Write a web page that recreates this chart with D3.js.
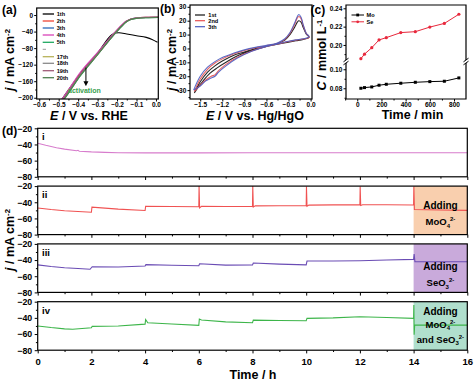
<!DOCTYPE html>
<html><head><meta charset="utf-8">
<script src="https://cdn.jsdelivr.net/npm/d3@7"></script>
<style>
body{margin:0;background:#fff}
svg{display:block}
text{font-family:"Liberation Sans",Arial,Helvetica,sans-serif;font-weight:bold;fill:#000}
</style></head>
<body>
<script>
// ---------------- DATA ----------------
// (a) LSV curves  [E (V vs RHE), j (mA cm-2)]
const lsvLabels = ["1th","2th","3th","4th","5th","...","17th","18th","19th","20th"];
const lsvColors = ["#000000","#ee4433","#2a6ab8","#d943b8","#1fa860","#999999","#b8b35a","#8a8a8a","#a05c78","#4d8050"];
const lsv1th = [[0.008,-66],[-0.02,-59],[-0.05,-54],[-0.1,-50],[-0.15,-46],[-0.19,-43],[-0.21,-43.5],[-0.225,-47],[-0.3,-92],[-0.39,-142],[-0.478,-200],[-0.49,-208]];
const lsv2th = [[0.012,-5],[-0.05,-5.5],[-0.1,-7],[-0.13,-10],[-0.155,-16],[-0.175,-25],[-0.195,-35],[-0.22,-48],[-0.3,-93],[-0.39,-143],[-0.475,-200],[-0.49,-209]];
const lsv3th = [[0.012,-5.5],[-0.05,-6],[-0.1,-7.5],[-0.13,-10.5],[-0.155,-16.5],[-0.175,-25.5],[-0.195,-35.5],[-0.22,-49],[-0.3,-94],[-0.39,-145],[-0.473,-200],[-0.49,-211]];
const lsv4th = [[0.012,-5],[-0.05,-5.5],[-0.1,-7],[-0.13,-9.5],[-0.155,-15],[-0.175,-23.5],[-0.195,-33],[-0.22,-46],[-0.3,-90],[-0.39,-139],[-0.478,-200],[-0.49,-207]];
const lsv5th = [[0.012,-6],[-0.05,-6.5],[-0.1,-8],[-0.13,-11],[-0.155,-17.5],[-0.175,-27],[-0.195,-37],[-0.22,-50],[-0.3,-96],[-0.39,-148],[-0.466,-200],[-0.48,-209]];
const lsv17th = [[0.012,-5.5],[-0.05,-6],[-0.1,-7.5],[-0.13,-10.5],[-0.155,-17],[-0.175,-26],[-0.195,-36],[-0.22,-49.5],[-0.3,-95],[-0.39,-146],[-0.47,-200],[-0.485,-210]];
const lsv18th = [[0.012,-5],[-0.05,-5.5],[-0.1,-7],[-0.13,-10],[-0.155,-16.5],[-0.175,-25.5],[-0.195,-35.5],[-0.22,-48.5],[-0.3,-94],[-0.39,-145],[-0.471,-200],[-0.485,-209]];
const lsv19th = [[0.012,-5.5],[-0.05,-6],[-0.1,-7.5],[-0.13,-10],[-0.155,-16],[-0.175,-25],[-0.195,-35],[-0.22,-48],[-0.3,-93],[-0.39,-144],[-0.472,-200],[-0.487,-210]];
const lsv20th = [[0.012,-6],[-0.05,-6.5],[-0.1,-8],[-0.13,-11],[-0.155,-17.5],[-0.175,-26.5],[-0.195,-36.5],[-0.22,-50],[-0.3,-96],[-0.39,-147],[-0.467,-200],[-0.482,-209]];
const aXTicks = [-0.6,-0.5,-0.4,-0.3,-0.2,-0.1,0.0];
const aYTicks = [0,-40,-80,-120,-160,-200];

// (b) CV loops [E (V vs Hg/HgO), j]
const cvLabels = ["1st","2nd","3th"];
const cvColors = ["#111111","#e85050","#4a5cc0"];
const cv1st = [[-1.58,-32],[-1.5,-24],[-1.4,-17],[-1.3,-12.5],[-1.2,-9],[-1.05,-5],[-0.9,-2.5],[-0.75,0],[-0.6,1.5],[-0.45,3.5],[-0.35,6],[-0.28,10],[-0.22,15],[-0.18,19],[-0.16,20],[-0.13,19],[-0.1,15],[-0.06,10.5],[-0.02,8],
  [-0.1,6.5],[-0.2,5.5],[-0.3,4.5],[-0.45,3],[-0.6,1.5],[-0.8,-1.5],[-1.0,-5.5],[-1.15,-10],[-1.27,-14],[-1.37,-18],[-1.47,-24],[-1.53,-28],[-1.58,-32]];
const cv2nd = [[-1.58,-31],[-1.5,-22],[-1.4,-15],[-1.3,-10.5],[-1.2,-7.5],[-1.05,-4],[-0.9,-1.5],[-0.75,0.5],[-0.6,2],[-0.45,3.8],[-0.35,6.5],[-0.28,11],[-0.22,17],[-0.18,22],[-0.16,23],[-0.13,21.5],[-0.1,16.5],[-0.06,11],[-0.02,8],
  [-0.1,6.8],[-0.2,6],[-0.3,5],[-0.45,3.2],[-0.6,1.5],[-0.8,-1.8],[-1.0,-6.5],[-1.15,-11.5],[-1.25,-16],[-1.3,-19],[-1.35,-20],[-1.42,-22.5],[-1.5,-26.5],[-1.58,-31]];
const cv3th = [[-1.59,-30],[-1.5,-20],[-1.4,-13.5],[-1.3,-9.5],[-1.2,-6.5],[-1.05,-3.5],[-0.9,-1],[-0.75,0.8],[-0.6,2.2],[-0.45,4],[-0.35,7],[-0.28,11.5],[-0.22,18],[-0.18,23],[-0.16,24.5],[-0.13,22.5],[-0.1,17],[-0.06,11],[-0.02,8.5],
  [-0.1,7],[-0.2,6.2],[-0.3,5.2],[-0.45,3.3],[-0.6,1.5],[-0.8,-2],[-1.0,-7],[-1.15,-12.5],[-1.25,-17],[-1.3,-20],[-1.36,-21.5],[-1.43,-23.5],[-1.5,-27],[-1.59,-30]];
const bXTicks = [-1.5,-1.2,-0.9,-0.6,-0.3,0.0];
const bYTicks = [30,20,10,0,-10,-20,-30];

// (c) concentration vs time
const timeMin = [30,60,120,180,240,360,480,600,720,840];
const moConc = [0.0800,0.0807,0.0814,0.0832,0.0842,0.0853,0.0863,0.0870,0.0874,0.0909];
const seConc = [0.185,0.190,0.197,0.2055,0.208,0.2135,0.2145,0.2195,0.2235,0.2335];
const cXTicks = [0,200,400,600,800];
const cYTicksUpper = [0.20,0.22,0.24];
const cYTicksLower = [0.08,0.10];

// (d) chronoamperometry [t (h), j]
const stabI = [[0,-38.5],[0.3,-41],[0.7,-44],[1,-45.8],[1.45,-47.8],[1.5,-47.2],[1.55,-48.3],[2,-49.2],[2.5,-49.8],[3,-50.2],[4,-50.4],[6,-50.4],[8,-50.3],[10,-50.2],[12,-50.3],[14,-50.2],[16,-50.3]];
const stabII = [[0,-47],[0.5,-49],[1,-50.5],[1.5,-51.5],[2,-52.3],[2.02,-46],[3,-48.5],[4,-50.2],[4.02,-45],[5,-45.3],[6,-45.5],[6.01,-20],[6.03,-47],[6.1,-45],[7,-45.3],[8,-45],[8.01,-20],[8.03,-46],[8.1,-44.5],[9,-44.3],[10,-44],[10.01,-20.5],[10.03,-45],[10.1,-43.5],[11,-43.2],[12,-43],[12.01,-20.5],[12.03,-44],[12.1,-43],[13,-43],[14,-43.3],[14.01,-20.5],[14.03,-49],[15,-49.5],[16,-50]];
const stabIII = [[0,-46],[0.5,-48],[1,-49.5],[1.5,-50.5],[1.95,-51.4],[2.03,-48.2],[3,-48.6],[4,-47.4],[4.03,-45.7],[5,-46.4],[6,-47],[6.03,-44.5],[7,-46.2],[8,-46],[8.03,-43.6],[9,-45],[10,-46],[10.03,-41.2],[11,-41.2],[12,-40.8],[13,-40],[14,-39.1],[14.02,-32.6],[14.05,-42],[16,-42]];
const stabIV = [[0,-50],[0.5,-52],[1,-53.6],[1.3,-54],[2,-52.3],[2.03,-50.5],[3,-50],[4,-47.8],[4.02,-42],[4.1,-46],[5,-47.5],[6,-49.2],[6.02,-41.5],[6.1,-42.7],[7,-45],[8,-46],[8.03,-42.8],[9,-43.3],[10,-43.5],[10.03,-40.6],[11,-40],[12,-38.6],[13,-39.6],[14,-40.6],[14.01,-24],[14.02,-61],[14.04,-49],[16,-49]];
const stabColors = ["#d77ccc","#f05252","#6a4cb4","#3db54a"];
const stabShade = ["none","#f9cfae","#c9aadb","#b0dfcd"];
const stabRoman = ["i","ii","iii","iv"];
const dXTicks = [0,2,4,6,8,10,12,14,16];
const dYTicks = [-20,-40,-60,-80];

// ---------------- DRAWING ----------------
const svg = d3.select("body").append("svg").attr("width",474).attr("height",382);
const defs = svg.append("defs");

function styleAxis(g, fs){
  g.attr("font-family",null).attr("font-size",null);
  g.select(".domain").remove();
  g.selectAll(".tick line").attr("stroke","#000").attr("stroke-width",1);
  g.selectAll(".tick text").style("font-size",fs+"px").style("font-weight","bold").attr("fill","#000");
}
function axisX(scale,y,majors,minors,fmt,fs,o){
  const g = svg.append("g").attr("transform",`translate(0,${y})`)
    .call(d3.axisBottom(scale).tickValues(majors).tickSize(o.ts).tickPadding(o.pad).tickFormat(fmt));
  styleAxis(g,fs);
  if(minors){
    const m = svg.append("g").attr("transform",`translate(0,${y})`)
      .call(d3.axisBottom(scale).tickValues(minors).tickSize(o.tm).tickFormat(()=>""));
    styleAxis(m,fs);
  }
}
function axisY(scale,x,majors,minors,fmt,fs,o){
  const g = svg.append("g").attr("transform",`translate(${x},0)`)
    .call(d3.axisLeft(scale).tickValues(majors).tickSize(o.ts).tickPadding(o.pad).tickFormat(fmt));
  styleAxis(g,fs);
  if(minors){
    const m = svg.append("g").attr("transform",`translate(${x},0)`)
      .call(d3.axisLeft(scale).tickValues(minors).tickSize(o.tm).tickFormat(()=>""));
    styleAxis(m,fs);
  }
}
function frame(x0,y0,x1,y1){
  svg.append("rect").attr("x",x0).attr("y",y0).attr("width",x1-x0).attr("height",y1-y0)
    .attr("fill","none").attr("stroke","#000").attr("stroke-width",1.2);
}
function clip(id,x0,y0,x1,y1){
  defs.append("clipPath").attr("id",id).append("rect").attr("x",x0).attr("y",y0).attr("width",x1-x0).attr("height",y1-y0);
  return `url(#${id})`;
}
function yLabel(x,y,parts,fs){
  const t = svg.append("text").attr("transform",`translate(${x},${y}) rotate(-90)`).attr("text-anchor","middle").style("font-size",fs+"px");
  parts.forEach(p=>{
    const s = t.append("tspan").text(p.t);
    if(p.i) s.style("font-style","italic");
    if(p.sup){ s.attr("dy",-fs*0.32).style("font-size",(fs*0.62)+"px"); }
  });
}
function xLabel(x,y,parts,fs){
  const t = svg.append("text").attr("x",x).attr("y",y).attr("text-anchor","middle").style("font-size",fs+"px");
  parts.forEach(p=>{ const s=t.append("tspan").text(p.t); if(p.i) s.style("font-style","italic"); });
}
const topOpt = {ts:2.5,tm:1.5,pad:1.2};
const fmt1 = d3.format(".1f");

// ===== Panel (a) =====
const ax0=36.7, ax1=158.3, ay0=8, ay1=99;
const xa = d3.scaleLinear().domain([-0.613,0.012]).range([ax0,ax1]);
const ya = d3.scaleLinear().domain([-203,17]).range([ay1,ay0]);
const lineA = d3.line().x(d=>xa(d[0])).y(d=>ya(d[1])).curve(d3.curveMonotoneX);
const clipA = clip("ca",ax0,ay0,ax1,ay1);
const lsvSeries = [lsv1th,lsv2th,lsv3th,lsv4th,lsv5th,null,lsv17th,lsv18th,lsv19th,lsv20th];
const gA = svg.append("g").attr("clip-path",clipA);
lsvSeries.forEach((s,i)=>{
  if(!s) return;
  gA.append("path").datum(s.slice().sort((p,q)=>p[0]-q[0])).attr("d",lineA).attr("fill","none")
    .attr("stroke",lsvColors[i]).attr("stroke-width",1.1);
});
// activation arrow
defs.append("marker").attr("id","arr").attr("viewBox","0 0 10 10").attr("refX",5).attr("refY",5)
  .attr("markerWidth",5).attr("markerHeight",6).attr("orient","auto")
  .append("path").attr("d","M0,0 L10,5 L0,10 Z").attr("fill","#000");
svg.append("line").attr("x1",xa(-0.36)).attr("x2",xa(-0.36)).attr("y1",ya(-127)).attr("y2",ya(-166))
  .attr("stroke","#000").attr("stroke-width",1).attr("marker-end","url(#arr)");
svg.append("text").attr("x",xa(-0.452)).attr("y",ya(-188)).text("activation").style("font-size","7px").style("fill","#3aa04e");
// legend (a)
const legAY = [14,21,28,35,42.3,49.3,56.7,63.3,70.7,77.7];
lsvLabels.forEach((lab,i)=>{
  if(lab==="..."){
    svg.append("line").attr("x1",42.7).attr("x2",46).attr("y1",legAY[i]).attr("y2",legAY[i]).attr("stroke","#999").attr("stroke-width",1);
    return;
  }
  svg.append("line").attr("x1",42.7).attr("x2",54).attr("y1",legAY[i]).attr("y2",legAY[i]).attr("stroke",lsvColors[i]).attr("stroke-width",1.3);
  svg.append("text").attr("x",56.7).attr("y",legAY[i]+2).text(lab).style("font-size","5.6px");
});
axisX(xa,ay1,aXTicks,[-0.55,-0.45,-0.35,-0.25,-0.15,-0.05],fmt1,6.5,topOpt);
axisY(ya,ax0,aYTicks,[-20,-60,-100,-140,-180],d3.format("d"),6.5,topOpt);
frame(ax0,ay0,ax1,ay1);
xLabel(89,119.5,[{t:"E",i:1},{t:" / V vs. RHE"}],12.5);
yLabel(13.5,60,[{t:"j",i:1},{t:" / mA cm"},{t:"-2",sup:1}],12.5);
svg.append("text").attr("x",2).attr("y",14).text("(a)").style("font-size","12px");

// ===== Panel (b) =====
const bx0=190, bx1=312, by0=5, by1=99;
const xb = d3.scaleLinear().domain([-1.639,0.019]).range([bx0,bx1]);
const yb = d3.scaleLinear().domain([-36.4,31.3]).range([by1,by0]);
const lineB = d3.line().x(d=>xb(d[0])).y(d=>yb(d[1])).curve(d3.curveCatmullRom);
const gB = svg.append("g").attr("clip-path",clip("cb",bx0,by0,bx1,by1));
[cv1st,cv2nd,cv3th].forEach((s,i)=>{
  gB.append("path").datum(s).attr("d",lineB).attr("fill","none").attr("stroke",cvColors[i]).attr("stroke-width",1.1).attr("stroke-opacity",0.9);
});
const legBY = [15,20.7,26.7];
cvLabels.forEach((lab,i)=>{
  svg.append("line").attr("x1",195).attr("x2",205).attr("y1",legBY[i]).attr("y2",legBY[i]).attr("stroke",cvColors[i]).attr("stroke-width",1.2);
  svg.append("text").attr("x",208.3).attr("y",legBY[i]+2).text(lab).style("font-size","5.6px");
});
axisX(xb,by1,bXTicks,[-1.35,-1.05,-0.75,-0.45,-0.15],fmt1,6.5,topOpt);
axisY(yb,bx0,bYTicks,[25,15,5,-5,-15,-25,-35],d3.format("d"),6.5,topOpt);
frame(bx0,by0,bx1,by1);
xLabel(255,119.5,[{t:"E",i:1},{t:" / V vs. Hg/HgO"}],12.5);
yLabel(175.5,60,[{t:"j",i:1},{t:" / mA cm"},{t:"-2",sup:1}],12.5);
svg.append("text").attr("x",160).attr("y",13).text("(b)").style("font-size","12px");

// ===== Panel (c) =====
const cx0=346, cx1=466, cTop=5, cBrkU=60, cBrkL=63, cBot=99;
const xc = d3.scaleLinear().domain([-93,899]).range([cx0,cx1]);
const ycU = d3.scaleLinear().domain([0.1836,0.2436]).range([cBrkU,cTop]);
const ycL = d3.scaleLinear().domain([0.0687,0.1066]).range([cBot,cBrkL]);
const lineMo = d3.line().x((d,i)=>xc(timeMin[i])).y(d=>ycL(d));
const lineSe = d3.line().x((d,i)=>xc(timeMin[i])).y(d=>ycU(d));
svg.append("path").datum(moConc).attr("d",lineMo).attr("fill","none").attr("stroke","#000").attr("stroke-width",1);
svg.append("path").datum(seConc).attr("d",lineSe).attr("fill","none").attr("stroke","#e8283c").attr("stroke-width",1);
svg.selectAll(".mo").data(moConc).enter().append("rect").attr("x",(d,i)=>xc(timeMin[i])-1.5).attr("y",d=>ycL(d)-1.5).attr("width",3).attr("height",3).attr("fill","#000");
svg.selectAll(".se").data(seConc).enter().append("circle").attr("cx",(d,i)=>xc(timeMin[i])).attr("cy",d=>ycU(d)).attr("r",1.6).attr("fill","#e8283c");
// legend (c)
[["Mo","#000"],["Se","#e8283c"]].forEach((p,i)=>{
  const y = 15+i*6.8;
  svg.append("line").attr("x1",351.5).attr("x2",364).attr("y1",y).attr("y2",y).attr("stroke",p[1]).attr("stroke-width",1);
  if(i===0) svg.append("rect").attr("x",356.3).attr("y",y-1.4).attr("width",2.8).attr("height",2.8).attr("fill",p[1]);
  else svg.append("circle").attr("cx",357.7).attr("cy",y).attr("r",1.4).attr("fill",p[1]);
  svg.append("text").attr("x",366.5).attr("y",y+2).text(p[0]).style("font-size","5.6px");
});
axisX(xc,cBot,cXTicks,[-100,100,300,500,700],d3.format("d"),6.5,topOpt);
axisY(ycU,cx0,cYTicksUpper,[0.19,0.21,0.23],d3.format(".2f"),6.5,topOpt);
axisY(ycL,cx0,cYTicksLower,[0.07,0.09],d3.format(".2f"),6.5,topOpt);
svg.append("path").attr("d",`M${cx0},${cBrkU}V${cTop}H${cx1}V${cBrkU}M${cx0},${cBrkL}V${cBot}H${cx1}V${cBrkL}`)
  .attr("fill","none").attr("stroke","#000").attr("stroke-width",1.2);
[cx0,cx1].forEach(x=>{
  [cBrkU,cBrkL].forEach(y=>{
    svg.append("line").attr("x1",x-2.5).attr("x2",x+2.5).attr("y1",y+1.8).attr("y2",y-1.8).attr("stroke","#000").attr("stroke-width",1);
  });
});
xLabel(412.5,119,[{t:"Time / min"}],12.5);
yLabel(325.5,55,[{t:"C",i:1},{t:" / mmol L"},{t:"-1",sup:1}],12.5);
svg.append("text").attr("x",310.5).attr("y",14).text("(c)").style("font-size","12px");

// ===== Panel (d) =====
const dx0=37.7, dx1=467.3, dH=48.5;
const dTops = [128.3,186.1,243.9,301.7];
const xd = d3.scaleLinear().domain([0,16]).range([dx0,dx1]);
const stabSeries = [stabI,stabII,stabIII,stabIV];
const dOpt = {ts:3.2,tm:1.8,pad:2.5};
dTops.forEach((top,k)=>{
  const yd = d3.scaleLinear().domain([-80,-20]).range([top+dH,top]);
  if(stabShade[k]!=="none"){
    svg.append("rect").attr("x",xd(14)).attr("y",yd(-20)).attr("width",xd(16)-xd(14)).attr("height",yd(-80)-yd(-20)).attr("fill",stabShade[k]);
  }
  const lineD = d3.line().x(d=>xd(d[0])).y(d=>yd(d[1]));
  svg.append("g").attr("clip-path",clip("cd"+k,dx0,top,dx1,top+dH))
    .append("path").datum(stabSeries[k]).attr("d",lineD).attr("fill","none").attr("stroke",stabColors[k]).attr("stroke-width",1.1);
  const last = k===3;
  axisX(xd,top+dH,dXTicks,[1,3,5,7,9,11,13,15],last?d3.format("d"):()=>"",9.5,last?{ts:3.2,tm:1.8,pad:5}:dOpt);
  axisY(yd,dx0,dYTicks,[-30,-50,-70],d3.format("d"),8.8,{ts:3,tm:1.8,pad:2.5});
  frame(dx0,top,dx1,top+dH);
  svg.append("text").attr("x",42).attr("y",top+12).text(stabRoman[k]).style("font-size","9.5px");
  // annotations
  const cxT = xd(15);
  function chem(y, base, sub, sup, pre){
    const t = svg.append("text").attr("x",cxT).attr("y",y).attr("text-anchor","middle").style("font-size","9.5px");
    if(pre) t.append("tspan").text(pre);
    t.append("tspan").text(base);
    t.append("tspan").text(sub).attr("dy",2.5).style("font-size","6px");
    t.append("tspan").text(sup).attr("dy",-6.5).style("font-size","6px");
  }
  if(k===1){
    svg.append("text").attr("x",cxT).attr("y",top+23).attr("text-anchor","middle").text("Adding").style("font-size","10px");
    chem(top+39,"MoO","4","2-");
  }
  if(k===2){
    svg.append("text").attr("x",cxT).attr("y",top+26).attr("text-anchor","middle").text("Adding").style("font-size","10px");
    chem(top+42.5,"SeO","3","2-");
  }
  if(k===3){
    svg.append("text").attr("x",cxT).attr("y",top+13.5).attr("text-anchor","middle").text("Adding").style("font-size","10px");
    chem(top+26,"MoO","4","2-");
    chem(top+41,"SeO","3","2-","and ");
  }
});
xLabel(253,378.5,[{t:"Time / h"}],12.5);
yLabel(13.5,240,[{t:"j",i:1},{t:" / mA cm"},{t:"-2",sup:1}],12.5);
svg.append("text").attr("x",2).attr("y",135).text("(d)").style("font-size","12px");
</script>
</body></html>
